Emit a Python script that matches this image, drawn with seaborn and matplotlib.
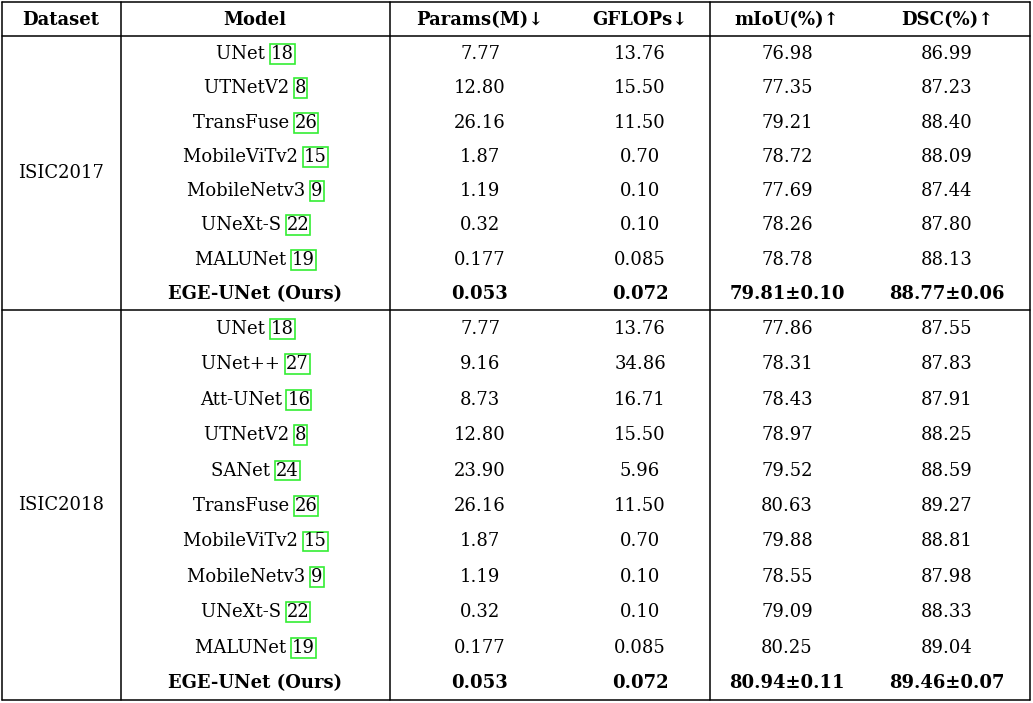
import matplotlib
matplotlib.use("Agg")
import matplotlib.pyplot as plt
import seaborn as sns

sns.set_theme(style="white")
plt.rcParams['font.family'] = ['DejaVu Serif', 'Liberation Serif']
plt.rcParams['text.color'] = 'black'

headers = ["Dataset", "Model", "Params(M)↓", "GFLOPs↓", "mIoU(%)↑", "DSC(%)↑"]
datasets = ["ISIC2017", "ISIC2018"]
models17 = ["UNet", "UTNetV2", "TransFuse", "MobileViTv2", "MobileNetv3", "UNeXt-S", "MALUNet", "EGE-UNet (Ours)"]
cites17 = ["18", "8", "26", "15", "9", "22", "19", ""]
params17 = ["7.77", "12.80", "26.16", "1.87", "1.19", "0.32", "0.177", "0.053"]
gflops17 = ["13.76", "15.50", "11.50", "0.70", "0.10", "0.10", "0.085", "0.072"]
miou17 = ["76.98", "77.35", "79.21", "78.72", "77.69", "78.26", "78.78", "79.81±0.10"]
dsc17 = ["86.99", "87.23", "88.40", "88.09", "87.44", "87.80", "88.13", "88.77±0.06"]
models18 = ["UNet", "UNet++", "Att-UNet", "UTNetV2", "SANet", "TransFuse", "MobileViTv2", "MobileNetv3", "UNeXt-S", "MALUNet", "EGE-UNet (Ours)"]
cites18 = ["18", "27", "16", "8", "24", "26", "15", "9", "22", "19", ""]
params18 = ["7.77", "9.16", "8.73", "12.80", "23.90", "26.16", "1.87", "1.19", "0.32", "0.177", "0.053"]
gflops18 = ["13.76", "34.86", "16.71", "15.50", "5.96", "11.50", "0.70", "0.10", "0.10", "0.085", "0.072"]
miou18 = ["77.86", "78.31", "78.43", "78.97", "79.52", "80.63", "79.88", "78.55", "79.09", "80.25", "80.94±0.11"]
dsc18 = ["87.55", "87.83", "87.91", "88.25", "88.59", "89.27", "88.81", "87.98", "88.33", "89.04", "89.46±0.07"]

W, H = 1033, 703
fig = plt.figure(figsize=(W/100, H/100), dpi=100)
ax = fig.add_axes([0, 0, 1, 1])
ax.set_xlim(0, W); ax.set_ylim(H, 0); ax.axis("off")
renderer = fig.canvas.get_renderer()

colx = [61, 255, 480, 640, 787, 947]
vlines = [2, 121, 390, 710, 1030]
fs = 13
top, hdr_bot, mid, bot = 2, 36, 310, 700

for x in vlines:
    ax.plot([x, x], [top, bot], color="black", lw=1.1)
for y in [top, hdr_bot, mid, bot]:
    ax.plot([2, 1030], [y, y], color="black", lw=1.1)

for x, h in zip(colx, headers):
    ax.text(x, (top + hdr_bot) / 2 + 1, h, ha="center", va="center", fontsize=fs, fontweight="bold")

def draw_group(y0, y1, ds, models, cites, params, gflops, miou, dsc):
    n = len(models)
    rh = (y1 - y0) / n
    ax.text(colx[0], (y0 + y1) / 2, ds, ha="center", va="center", fontsize=fs)
    for i in range(n):
        yc = y0 + rh * (i + 0.5) + 1
        bold = (i == n - 1)
        fw = "bold" if bold else "normal"
        if cites[i]:
            t1 = ax.text(0, yc, models[i] + " ", ha="left", va="center", fontsize=fs)
            t2 = ax.text(0, yc, cites[i], ha="left", va="center", fontsize=fs,
                         bbox=dict(boxstyle="square,pad=0.05", fc="none", ec="#33ee33", lw=1.2))
            w1 = t1.get_window_extent(renderer).width
            w2 = t2.get_window_extent(renderer).width
            start = colx[1] - (w1 + w2) / 2
            t1.set_x(start); t2.set_x(start + w1)
        else:
            ax.text(colx[1], yc, models[i], ha="center", va="center", fontsize=fs, fontweight=fw)
        for x, v in zip(colx[2:], [params[i], gflops[i], miou[i], dsc[i]]):
            ax.text(x, yc, v, ha="center", va="center", fontsize=fs, fontweight=fw)

draw_group(hdr_bot, mid, datasets[0], models17, cites17, params17, gflops17, miou17, dsc17)
draw_group(mid, bot, datasets[1], models18, cites18, params18, gflops18, miou18, dsc18)

fig.savefig("out.png", dpi=100, facecolor="white")
